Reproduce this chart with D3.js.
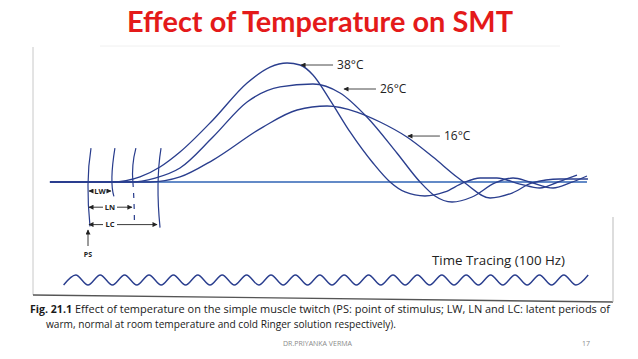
<!DOCTYPE html>
<html><head><meta charset="utf-8">
<script src="https://cdn.jsdelivr.net/npm/d3@7"></script>
<style>body{margin:0;background:#fff}svg{display:block}</style>
</head><body><svg id="c" width="638" height="359"></svg>
<script>
// ---------- data ----------
const titleText = "Effect of Temperature on SMT";
const seriesNames = ["38°C", "26°C", "16°C"];
// time (ms after stimulus) and tension (arbitrary units)
const time38 = [-15.6, 9.8, 21.3, 29.5, 37.7, 51.2, 65.2, 74.6, 81.6, 86.9, 92.2, 99.2, 107.4, 116.8, 123.8, 129.9, 138.1, 146.3, 153.7, 160.7, 167.6, 177, 185.2, 192.6, 200.4];
const tension38 = [0, 0, 4.2, 12.5, 25, 51.7, 82.5, 95.8, 99.2, 97.5, 89.2, 68.3, 41.7, 15.8, 0, -8.3, -11.7, -8.3, -0.8, 3.3, 3.3, -1.7, -5, 0, 5.8];
const time26 = [-15.6, 17.2, 27.5, 37.7, 51.2, 65.2, 78.7, 92.2, 103.3, 114.3, 126.6, 136.1, 142.2, 149.2, 157.4, 166.8, 174.2, 181.1, 190.6, 197.5, 204.5];
const tension26 = [0, 0, 3.3, 11.7, 37.5, 66.7, 79.2, 81.7, 74.2, 54.2, 24.2, 0, -11.7, -16.7, -12.5, -0.8, 3.3, 0, -5, -0.8, 5];
const time16 = [-15.6, 25.4, 37.7, 51.2, 71.7, 85.7, 98, 110.2, 119.7, 130.7, 141.4, 151.2, 154.5, 164.8, 173.8, 182, 193.4, 204.9];
const tension16 = [0, 0, 4.2, 18.3, 45.8, 60, 63.3, 58.3, 50, 37.5, 20.8, 4.2, -0.8, -13.3, -9.2, -0.8, 2.5, 2.5];
const baselineTimes = [-15.6, 204.5];
// label arrows pointing at each curve
const labelTimes = [86.9, 104.5, 130.7];
const labelTensions = [97.5, 77.5, 38.3];
// latent period marks
const markNames = ["PS", "LW", "LN", "LC"];
const markTimes = [0, 9.8, 18.4, 28.7];
const markBottoms = [-37, -12, -35, -38];
const arrowLevels = [-7.5, -21, -35.5]; // LW, LN, LC arrows
// 100 Hz time tracing: crests and troughs (ms)
const traceTroughs = [-10, 0, 10, 20, 30, 40, 50, 60, 70, 80, 90, 100, 110, 120, 130, 140, 150, 160, 170, 180, 190, 200];
const traceCrests = [-5, 5, 15, 25, 35, 45, 55, 65, 75, 85, 95, 105, 115, 125, 135, 145, 155, 165, 175, 185, 195, 205];
const traceLabel = "Time Tracing (100 Hz)";
const captionBold = "Fig. 21.1";
const captionLine1 = "Effect of temperature on the simple muscle twitch (PS: point of stimulus; LW, LN and LC: latent periods of";
const captionLine2 = "warm, normal at room temperature and cold Ringer solution respectively).";
const footerAuthor = "DR.PRIYANKA VERMA";
const footerPage = "17";

// ---------- drawing ----------
const svg = d3.select("#c");
const x = d3.scaleLinear().domain([0, 210]).range([88, 600.4]);
const y = d3.scaleLinear().domain([0, 100]).range([182, 62]);
const yTrace = d3.scaleLinear().domain([-1, 1]).range([285, 275]);

const defs = svg.append("defs");
defs.append("marker").attr("id", "ah").attr("viewBox", "0 0 10 10")
  .attr("refX", 9).attr("refY", 5).attr("markerWidth", 6).attr("markerHeight", 5)
  .attr("orient", "auto-start-reverse").attr("markerUnits", "userSpaceOnUse")
  .append("path").attr("d", "M0,0L10,5L0,10z").attr("fill", "#222");

// title
svg.append("text").attr("x", 320).attr("y", 32).attr("text-anchor", "middle")
  .attr("font-family", "Lato, 'Open Sans', sans-serif").attr("font-weight", 700)
  .attr("font-size", 28).attr("fill", "#e41a1a")
  .attr("textLength", 386).attr("lengthAdjust", "spacingAndGlyphs").text(titleText);

// frame lines (scanned figure)
const frame = svg.append("g").attr("fill", "none");
frame.append("line").attr("x1", 33).attr("y1", 47).attr("x2", 33).attr("y2", 295).attr("stroke", "#c8c8c8").attr("stroke-width", 1);
frame.append("line").attr("x1", 100).attr("y1", 46).attr("x2", 560).attr("y2", 46).attr("stroke", "#f0f0f0").attr("stroke-width", 1);
frame.append("line").attr("x1", 33).attr("y1", 295).attr("x2", 613).attr("y2", 302).attr("stroke", "#555").attr("stroke-width", 1.3);
frame.append("line").attr("x1", 613).attr("y1", 217).attr("x2", 613).attr("y2", 302).attr("stroke", "#bbb").attr("stroke-width", 1);

// latent marks (kymograph arcs)
const marks = svg.append("g").attr("fill", "none").attr("stroke", "#283c8c").attr("stroke-width", 1.2);
markTimes.forEach((t, i) => {
  const x0 = x(t), top = y(28.3), mid = y(0), bot = y(markBottoms[i]);
  if (markNames[i] === "LN") {
    marks.append("path").attr("d", `M${x0 + 3},${top}Q${x0 - 1.5},${(top + mid) / 2} ${x0},${mid}`);
    marks.append("path").attr("d", `M${x0},${mid}Q${x0 + 1.5},${(mid + bot) / 2} ${x0 + 1.5},${bot}`).attr("stroke-dasharray", "5,6");
  } else {
    marks.append("path").attr("d", `M${x0 + 3},${top}Q${x0 - 2.5},${mid} ${x0 + 2},${bot}`);
  }
});

// latent arrows
const arr = svg.append("g");
arrowLevels.forEach((v, i) => {
  const x1 = x(markTimes[0]) + 1, x2 = x(markTimes[i + 1]) - 1, yy = y(v);
  const cx = i === 0 ? (x1 + x2) / 2 : x1 + 21;
  arr.append("line").attr("x1", cx - 7).attr("y1", yy).attr("x2", x1).attr("y2", yy)
    .attr("stroke", "#222").attr("stroke-width", 0.9).attr("marker-end", "url(#ah)");
  arr.append("line").attr("x1", cx + 7).attr("y1", yy).attr("x2", x2).attr("y2", yy)
    .attr("stroke", "#222").attr("stroke-width", 0.9).attr("marker-end", "url(#ah)");
  arr.append("text").attr("x", cx).attr("y", yy + 2.6).attr("text-anchor", "middle")
    .attr("font-family", "'Open Sans', sans-serif").attr("font-weight", 700).attr("font-size", 7.5)
    .attr("fill", "#222").text(markNames[i + 1]);
});
// PS arrow
arr.append("line").attr("x1", x(0)).attr("y1", 246).attr("x2", x(0)).attr("y2", 230)
  .attr("stroke", "#222").attr("stroke-width", 0.9).attr("marker-end", "url(#ah)");
arr.append("text").attr("x", x(0)).attr("y", 257).attr("text-anchor", "middle")
  .attr("font-family", "'Open Sans', sans-serif").attr("font-weight", 700).attr("font-size", 7)
  .attr("fill", "#222").text(markNames[0]);

// baseline
svg.append("line").attr("x1", x(baselineTimes[0])).attr("x2", x(baselineTimes[1]))
  .attr("y1", y(0)).attr("y2", y(0)).attr("stroke", "#2f63b5").attr("stroke-width", 1.3);

// twitch curves
const line = d3.line().x(d => x(d[0])).y(d => y(d[1])).curve(d3.curveMonotoneX);
const series = [[time38, tension38], [time26, tension26], [time16, tension16]];
svg.append("g").selectAll("path").data(series).join("path")
  .attr("d", s => line(s[0].map((t, i) => [t, s[1][i]])))
  .attr("fill", "none").attr("stroke", "#2a3e8e").attr("stroke-width", 1.35);

// curve labels
const lab = svg.append("g");
seriesNames.forEach((n, i) => {
  const tx = x(labelTimes[i]), ty = y(labelTensions[i]);
  lab.append("line").attr("x1", tx + 33).attr("y1", ty).attr("x2", tx + 1).attr("y2", ty)
    .attr("stroke", "#333").attr("stroke-width", 0.9).attr("marker-end", "url(#ah)");
  lab.append("text").attr("x", tx + 37).attr("y", ty + 4.3)
    .attr("font-family", "'Open Sans', sans-serif").attr("font-size", 12).attr("fill", "#222").text(n);
});

// time tracing
const tracePts = traceTroughs.map(t => [t, -1]).concat(traceCrests.map(t => [t, 1])).sort((a, b) => a[0] - b[0]);
svg.append("path")
  .attr("d", d3.line().x(d => x(d[0])).y(d => yTrace(d[1])).curve(d3.curveMonotoneX)(tracePts))
  .attr("fill", "none").attr("stroke", "#2a3e8e").attr("stroke-width", 1.4);
svg.append("text").attr("x", 432).attr("y", 265)
  .attr("font-family", "'Open Sans', sans-serif").attr("font-size", 12.3).attr("fill", "#222")
  .attr("textLength", 133).attr("lengthAdjust", "spacingAndGlyphs").text(traceLabel);

// caption
const cap = svg.append("g")
  .attr("font-family", "'Open Sans', sans-serif").attr("font-size", 10.4).attr("fill", "#1a1a1a");
cap.append("text").attr("x", 30).attr("y", 312.5).attr("font-weight", 700)
  .attr("textLength", 42).attr("lengthAdjust", "spacingAndGlyphs").text(captionBold);
cap.append("text").attr("x", 75).attr("y", 312.5)
  .attr("textLength", 535).attr("lengthAdjust", "spacingAndGlyphs").text(captionLine1);
cap.append("text").attr("x", 46).attr("y", 328)
  .attr("textLength", 350).attr("lengthAdjust", "spacingAndGlyphs").text(captionLine2);

// footer
svg.append("text").attr("x", 283).attr("y", 345.5).attr("font-family", "'Open Sans', sans-serif")
  .attr("font-size", 7).attr("fill", "#8a8a8a").text(footerAuthor);
svg.append("text").attr("x", 582).attr("y", 345.5).attr("font-family", "'Open Sans', sans-serif")
  .attr("font-size", 7).attr("fill", "#8a8a8a").text(footerPage);
</script></body></html>
